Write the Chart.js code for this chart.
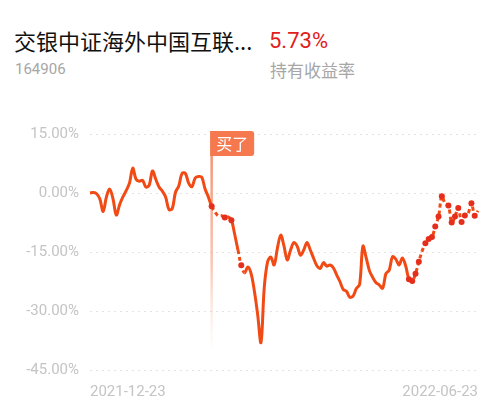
<!DOCTYPE html>
<html>
<head>
<meta charset="utf-8">
<script src="https://cdn.jsdelivr.net/npm/chart.js@4/dist/chart.umd.min.js"></script>
<style>
    html, body { margin: 0; padding: 0; background: #fff; }
    body { width: 500px; height: 406px; position: relative; overflow: hidden; font-family: Roboto, "Noto Sans CJK SC", sans-serif; }
    .title { position: absolute; left: 14px; top: 25px; font-size: 22px; color: #111; font-family: "Noto Sans CJK SC", sans-serif; line-height: 30px; }
    .code { position: absolute; left: 15px; top: 59px; font-size: 15px; color: #a6a6a6; line-height: 20px; }
    .rate { position: absolute; left: 269px; top: 27px; font-size: 22px; color: #e0201a; line-height: 28px; }
    .rate-label { position: absolute; left: 270px; top: 58px; font-size: 17px; color: #a6a6a6; font-family: "Noto Sans CJK SC", sans-serif; line-height: 24px; }
    #chartWrap { position: absolute; left: 0; top: 0; width: 500px; height: 406px; }
</style>
</head>
<body>
<div class="title">交银中证海外中国互联...</div>
<div class="code">164906</div>
<div class="rate">5.73%</div>
<div class="rate-label">持有收益率</div>
<div id="chartWrap"><canvas id="returnChart"></canvas></div>
<script>
const startDate = '2021-12-23';
const endDate = '2022-06-23';
const yTicks = [-45, -30, -15, 0, 15];

// holding return (%), one value per trading day
const returns = [
    0, 0.1, -0.2, -1.5, -4.7, -1.0, 1.0, -1.5, -5.6, -3.0,
    -1.0, 0.6, 2.5, 6.3, 3.5, 3.0, 3.2, 1.5, 2.0, 5.6,
    3.5, 1.5, 0.5, -1.0, -4.2, -4.0, 0.2, 1.8, 5.0, 5.0,
    2.5, 1.6, 3.8, 4.2, 4.0, 1.0, -1.0, -3.4, -4.8, -5.8,
    -5.8, -6.2, -6.1, -6.9, -10.5, -14.5, -18.4, -20.3, -18.8, -20.5,
    -25, -31, -38, -24, -17.5, -16.3, -18.3, -14, -10.7, -13.5,
    -17, -14.5, -12.6, -13.5, -15.8, -14.5, -12.6, -14.5, -16.6, -18.5,
    -19.2, -17.7, -18.6, -18.3, -19.0, -20.8, -22.5, -24.5, -25.0, -26.5,
    -26.2, -24.3, -23.2, -13.5, -16.5, -19.8, -21.5, -22.8, -23.4, -24.2,
    -20.5, -19.6, -16.2, -16.8, -18.3, -16.5, -18.5, -21.9, -22.4, -20.5,
    -17.5, -14.8, -12.8, -11.7, -11.2, -8.5, -6.0, -0.8, -2.7, -3.2,
    -7.5, -6.0, -3.8, -7.4, -5.7, -5.2, -2.6, -5.8, -4.5
];

const buyIndex = 37;
// days with a trade marker
const tradeDays = [37, 41, 43, 46, 97, 98, 99, 100, 102, 103, 104, 105, 106, 107, 109, 110, 111, 112, 113, 114, 116, 117];
// stretches drawn dashed (start, end index)
const dashedRanges = [[37, 43], [45, 47], [97, 118]];

const labels = returns.map((v, i) => {
    if (i === 0) return startDate;
    if (i === returns.length - 1) return endDate;
    return '';
});

const isDashed = (i) => dashedRanges.some(([a, b]) => i >= a && i < b);

const buyMarker = {
    id: 'buyMarker',
    beforeDatasetsDraw(chart) {
        const { ctx, scales } = chart;
        const x = scales.x.getPixelForValue(buyIndex);
        const top = 131;
        const bottom = 352;
        ctx.save();
        const grad = ctx.createLinearGradient(0, top, 0, bottom);
        grad.addColorStop(0, 'rgba(244,120,82,0.9)');
        grad.addColorStop(0.6, 'rgba(246,160,130,0.6)');
        grad.addColorStop(1, 'rgba(250,200,180,0)');
        ctx.strokeStyle = grad;
        ctx.lineWidth = 2.5;
        ctx.beginPath();
        ctx.moveTo(x, top);
        ctx.lineTo(x, bottom);
        ctx.stroke();

        ctx.fillStyle = '#f5784f';
        ctx.beginPath();
        ctx.roundRect(x - 1.5, top, 44, 25, [0, 3, 3, 0]);
        ctx.fill();
        ctx.fillStyle = '#fff';
        ctx.font = '16px "Noto Sans CJK SC"';
        ctx.textAlign = 'center';
        ctx.textBaseline = 'middle';
        ctx.fillText('买了', x + 20.5, top + 12.5);
        ctx.restore();
    }
};

new Chart(document.getElementById('returnChart'), {
    type: 'line',
    data: {
        labels: labels,
        datasets: [{
            data: returns,
            borderColor: '#f24a14',
            borderWidth: 3,
            tension: 0.35,
            pointRadius: returns.map((v, i) => tradeDays.includes(i) ? 3 : 0),
            pointBackgroundColor: '#e62e1c',
            pointBorderWidth: 0,
            segment: {
                borderDash: (ctx) => isDashed(ctx.p0DataIndex) ? [4, 3] : undefined
            }
        }]
    },
    options: {
        responsive: true,
        maintainAspectRatio: false,
        animation: false,
        layout: { padding: { top: 134, right: 22, left: 0, bottom: 0 } },
        plugins: {
            legend: { display: false },
            tooltip: { enabled: false }
        },
        scales: {
            x: {
                grid: { display: false, drawTicks: false },
                border: { display: false },
                afterFit: (scale) => { scale.height = 36; },
                ticks: {
                    autoSkip: false,
                    maxRotation: 0,
                    align: 'inner',
                    padding: 13,
                    color: '#c4c4c4',
                    font: { family: 'Roboto', size: 15 }
                }
            },
            y: {
                min: -45,
                max: 15,
                afterFit: (scale) => { scale.width = 90; },
                afterBuildTicks: (scale) => { scale.ticks = yTicks.map((v) => ({ value: v })); },
                grid: { color: '#e2e2e2', lineWidth: 1, drawTicks: false },
                border: { display: false, dash: [2, 4] },
                ticks: {
                    padding: 11,
                    color: '#c4c4c4',
                    font: { family: 'Roboto', size: 15 },
                    callback: (v) => v.toFixed(2) + '%'
                }
            }
        }
    },
    plugins: [buyMarker]
});
</script>
</body>
</html>
